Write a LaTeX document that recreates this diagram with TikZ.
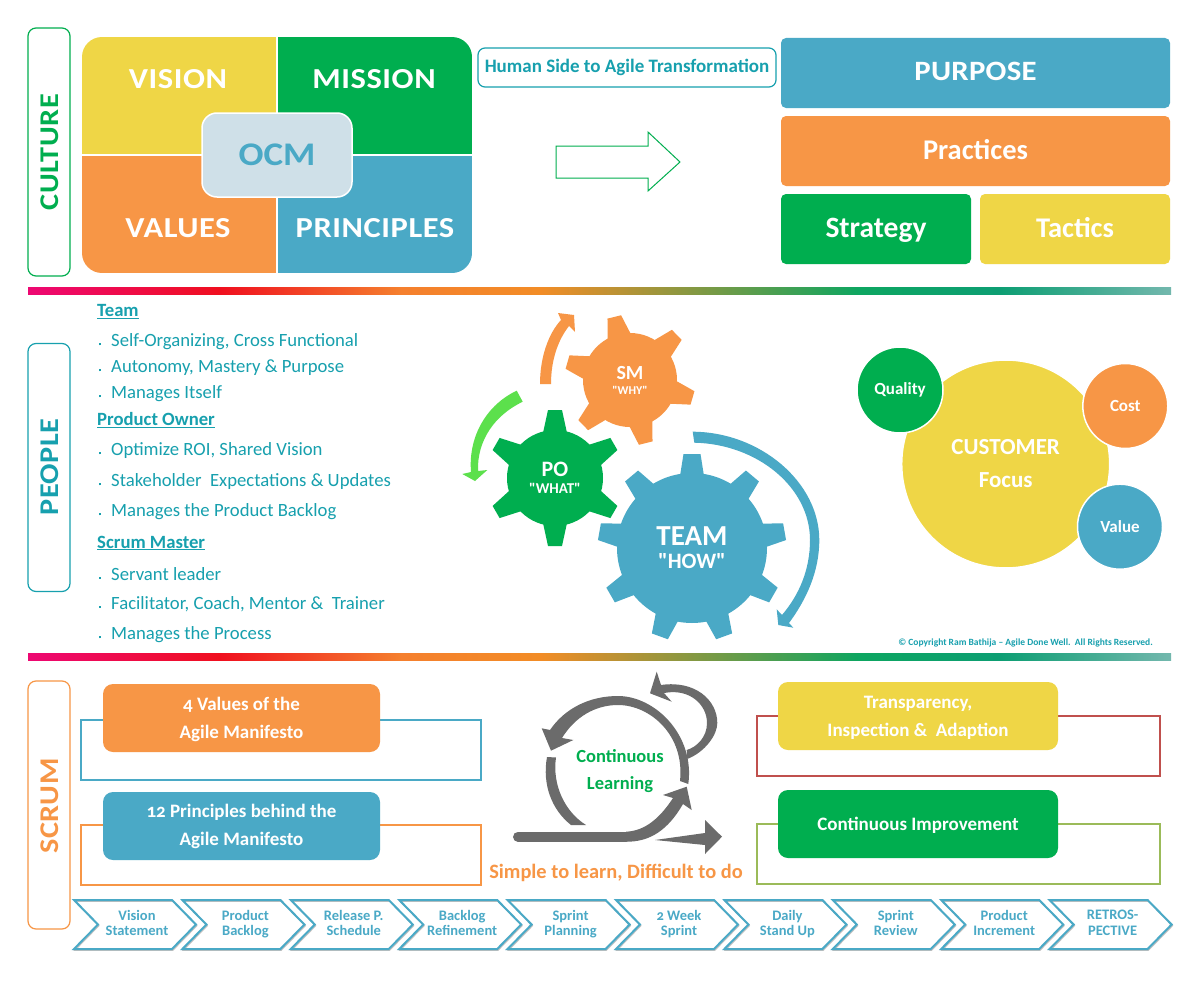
\documentclass[tikz,border=0pt]{standalone}
\usepackage{fontspec}
\setmainfont{Carlito}
\newfontfamily\quotefont{Carlito}
\usetikzlibrary{calc}
\definecolor{cgreen}{HTML}{00AE4F}
\definecolor{cyellow}{HTML}{EFD646}
\definecolor{corange}{HTML}{F79646}
\definecolor{cblue}{HTML}{4AA9C6}
\definecolor{cteal}{HTML}{17A0AE}
\definecolor{cpale}{HTML}{CFE0E8}
\definecolor{cgray}{HTML}{6B6B6B}
\definecolor{clime}{HTML}{5CE04C}
\definecolor{cred}{HTML}{C0504D}
\definecolor{colive}{HTML}{9BBB59}
\pgfdeclarehorizontalshading{barshade}{100bp}{
  rgb(0bp)=(0.93,0.03,0.45);
  rgb(25bp)=(0.93,0.03,0.45);
  rgb(33.4bp)=(0.94,0.06,0.12);
  rgb(41.3bp)=(0.96,0.50,0.18);
  rgb(47.4bp)=(0.95,0.55,0.15);
  rgb(61.4bp)=(0.05,0.65,0.38);
  rgb(67.5bp)=(0.05,0.62,0.45);
  rgb(75bp)=(0.45,0.72,0.68);
  rgb(100bp)=(0.45,0.72,0.68)}
\tikzset{
  sidebox/.style={draw=#1,line width=1.2pt,rounded corners=8pt,minimum width=42pt,minimum height=248pt,inner sep=0pt},
  sidetext/.style={text=#1,font=\fontsize{27}{27}\selectfont\bfseries\addfontfeature{FakeStretch=1.12,LetterSpace=2},rotate=90,inner sep=0pt},
  quadtext/.style={text=white,font=\fontsize{29}{29}\selectfont\bfseries\addfontfeature{FakeStretch=1.12,LetterSpace=2},inner sep=0pt},
  plank/.style={fill=#1,rounded corners=5pt,minimum height=70pt,inner sep=0pt,text=white,text height=22pt,text depth=6pt},
  button/.style={fill=#1,rounded corners=10pt,minimum height=68pt,inner sep=0pt},
  buttontext/.style={text=white,align=center,inner sep=0pt,font=\fontsize{19}{28}\selectfont\bfseries,execute at begin node=\strut,execute at end node=\strut},
  listitem/.style={anchor=west,inner sep=0pt,text=cteal,font=\fontsize{18.7}{20}\selectfont},
  listhead/.style={anchor=west,inner sep=0pt,text=cteal,font=\fontsize{18.7}{20}\selectfont\bfseries},
  ball/.style={circle,fill=#1,draw=white,line width=1.5pt,inner sep=0pt,text=white},
  gearhub/.style={circle,fill=#1,inner sep=0pt,text=white,align=center},
  chevtext/.style={text=cblue,align=center,inner sep=0pt,font=\fontsize{14.5}{15.5}\selectfont\bfseries,execute at begin node=\strut,execute at end node=\strut},
  bar/.style={shading=barshade}
}
\newcommand{\teeth}[8]{
  \foreach \n in {1,...,#6}
    \fill[#8,shift={(#1)},rotate=#7+360/#6*\n] (#2-3,-#4)--(#3,-#5)--(#3,#5)--(#2-3,#4)--cycle;
}
\newcommand{\bul}{\makebox[14pt][l]{\hspace*{2pt}\raisebox{1.5pt}{\rule{2.2pt}{2.2pt}}}}
\begin{document}
\begin{tikzpicture}[x=1pt,y=-1pt]
\useasboundingbox (0,0) rectangle (1200,982);
\fill[white] (0,0) rectangle (1200,982);
\node[sidebox=cgreen,minimum height=248pt] (culturebox) at (49,152) {};
\node[sidetext=cgreen] (culture) at (50,152) {CULTURE};
\begin{scope}
  \clip[rounded corners=20pt] (82,37) rectangle (472,273);
  \fill[cyellow] (82,37) rectangle (277,155);
  \fill[cgreen] (277,37) rectangle (472,155);
  \fill[corange] (82,155) rectangle (277,273);
  \fill[cblue] (277,155) rectangle (472,273);
  \draw[white,line width=1.5pt] (277,37)--(277,273) (82,155)--(472,155);
\end{scope}
\node[quadtext] (vision) at (178,79) {VISION};
\node[quadtext] (mission) at (374,79) {MISSION};
\node[quadtext] (values) at (178,228) {VALUES};
\node[quadtext] (principles) at (375,228) {PRINCIPLES};
\node[fill=cpale,draw=white,line width=1.5pt,rounded corners=15pt,minimum width=150pt,minimum height=84pt,text=cblue,font=\fontsize{33}{33}\selectfont\bfseries\addfontfeature{FakeStretch=1.12}] (ocm) at (277,155) {OCM};
\node[draw=cteal,line width=1.2pt,rounded corners=7pt,minimum width=298pt,minimum height=39pt,inner sep=0pt,text=cteal,font=\fontsize{19}{20}\selectfont\bfseries] (human) at (627,67.5) {\raisebox{3pt}{Human Side to Agile Transformation}};
\draw[cgreen,line width=1pt] (556,146)--(648,146)--(648,132)--(680,162)--(648,191)--(648,178)--(556,178)--cycle;
\node[plank=cblue,minimum width=389pt,font=\fontsize{28}{28}\selectfont\bfseries\addfontfeature{FakeStretch=1.1,LetterSpace=1}] (purpose) at (975.5,73) {PURPOSE};
\node[plank=corange,minimum width=389pt,font=\fontsize{28.5}{28}\selectfont\bfseries] (practices) at (975.5,151) {Practices};
\node[plank=cgreen,minimum width=190pt,font=\fontsize{29.5}{28}\selectfont\bfseries] (strategy) at (876,229) {Strategy};
\node[plank=cyellow,minimum width=190pt,font=\fontsize{28.5}{28}\selectfont\bfseries] (tactics) at (1075,229) {Tactics};
\path[bar] (28,287) rectangle (1171,294);
\node[sidebox=cteal] (peoplebox) at (49,467.5) {};
\node[sidetext=cteal] (people) at (50,467) {PEOPLE};
\node[listhead] (teamhead) at (97,312) {\underline{Team}};
\node[listitem] (teama) at (97,342) {\bul Self-Organizing, Cross Functional};
\node[listitem] (teamb) at (97,368) {\bul Autonomy, Mastery \& Purpose};
\node[listitem] (teamc) at (97,394) {\bul Manages Itself};
\node[listhead] (pohead) at (97,420) {\underline{Product Owner}};
\node[listitem] (poa) at (97,451) {\bul Optimize ROI, Shared Vision};
\node[listitem] (pob) at (97,482) {\bul Stakeholder\ \ Expectations \& Updates};
\node[listitem] (poc) at (97,512) {\bul Manages the Product Backlog};
\node[listhead] (smhead) at (97,543) {\underline{Scrum Master}};
\node[listitem] (sma) at (97,574) {\bul Servant leader};
\node[listitem] (smb) at (97,604) {\bul Facilitator, Coach, Mentor \&\ \ Trainer};
\node[listitem] (smc) at (97,635) {\bul Manages the Process};
\teeth{630,380}{47}{65}{12}{7}{6}{44}{corange}
\teeth{555,478}{48}{68}{12}{7}{6}{30}{cgreen}
\teeth{692,548}{75}{94}{12}{8.5}{9}{10}{cblue}
\node[gearhub=corange,minimum size=94pt] (sm) at (630,380) {\fontsize{20}{20}\selectfont\bfseries SM\\[3pt]\fontsize{12}{12}\selectfont\quotefont\bfseries "WHY"};
\node[gearhub=cgreen,minimum size=96pt] (po) at (555,478) {\fontsize{22}{22}\selectfont\bfseries PO\\[5pt]\fontsize{15}{15}\selectfont\quotefont\bfseries "WHAT"};
\node[gearhub=cblue,minimum size=150pt] (team) at (692,548) {\fontsize{29}{29}\selectfont\bfseries TEAM\\[7pt]\fontsize{22}{22}\selectfont\quotefont\bfseries "HOW"};
\fill[corange] (540,384) .. controls (540,358) and (548,334) .. (561,320) -- (558,313) -- (574,315) -- (575,332) -- (569,326) .. controls (558,340) and (551,360) .. (551,384) -- cycle;
\fill[clime] (516.7,390.7) .. controls (488,404) and (468,435) .. (471,472) -- (462.3,474) -- (475,481) -- (487.3,470) -- (478,471) .. controls (477,440) and (495,415) .. (522.7,401.7) -- cycle;
\fill[cblue] (692.7,431.7) .. controls (760,432) and (819.3,482) .. (819.3,540) .. controls (819.3,572) and (806,600) .. (789,623) -- (793.3,627.7) -- (778.3,625) -- (776.7,609.3) -- (782,615) .. controls (799,595) and (810,570) .. (810,540) .. controls (810,487) and (757,444) .. (694.3,442.7) -- cycle;
\node[ball=cyellow,minimum size=208pt,align=center,font=\fontsize{23}{33}\selectfont\bfseries] (customer) at (1005.7,464) {CUSTOMER\\Focus};
\node[ball=cgreen,minimum size=86pt,font=\fontsize{17}{17}\selectfont\bfseries] (quality) at (900,390) {Quality};
\node[ball=corange,minimum size=85pt,font=\fontsize{17}{17}\selectfont\bfseries] (cost) at (1125.3,406) {Cost};
\node[ball=cblue,minimum size=85pt,font=\fontsize{17}{17}\selectfont\bfseries] (value) at (1120,526.7) {Value};
\node[anchor=east,inner sep=0pt,text=cteal,font=\fontsize{9.5}{10}\selectfont\bfseries] (copy) at (1153,643) {© Copyright Ram Bathija – Agile Done Well.\ \ All Rights Reserved.};
\path[bar] (28,653) rectangle (1171,660);
\node[sidebox=corange] (scrumbox) at (49,805) {};
\node[sidetext=corange] (scrum) at (50,806) {SCRUM};
\draw[cblue,line width=1.3pt] (81,720) rectangle (481,780);
\draw[corange,line width=1.3pt] (81,825) rectangle (481,885);
\draw[cred,line width=1.3pt] (757,716) rectangle (1160,776);
\draw[colive,line width=1.3pt] (757,824) rectangle (1160,884);
\node[button=corange,minimum width=277pt] (manifesto) at (241.5,718) {};
\node[buttontext] (manifestotext) at (241.5,722) {{\addfontfeature{Numbers=OldStyle}4} Values of the\\Agile Manifesto};
\node[button=cblue,minimum width=277pt] (twelve) at (241.5,826) {};
\node[buttontext] (twelvetext) at (241.5,829) {{\addfontfeature{Numbers=OldStyle}12} Principles behind the\\Agile Manifesto};
\node[button=cyellow,minimum width=280pt] (transparency) at (918,716) {};
\node[buttontext] (transparencytext) at (918,721) {Transparency,\\Inspection \&\ \ Adaption};
\node[button=cgreen,minimum width=280pt] (improvement) at (918,824) {};
\node[buttontext] (improvementtext) at (918,825) {Continuous Improvement};
\draw[cgray,line width=10pt,line cap=round] (518,836.7)--(626,836.7);
\fill[cgray] (626,831.7) .. controls (645,831) and (660,818) .. (673,798) -- (663,795) -- (686.7,786.7) -- (691.7,810) -- (683,804) .. controls (668,830) and (650,842) .. (626,841.7) -- cycle;
\fill[cgray] (655,840) -- (705,833) -- (705,820) -- (722,836.7) -- (705,854) -- (705,845) -- cycle;
\fill[cgray] (547,757) .. controls (542,785) and (552,810) .. (571,825) -- (586,825) .. controls (565,812) and (552,785) .. (556,757.5) -- cycle;
\fill[cgray] (688.3,784) .. controls (695,735) and (655,696) .. (618,696) .. controls (590,696) and (565,708) .. (550,730) -- (541.7,728.3) -- (551,750.7) -- (573.3,740) -- (562,738) .. controls (575,717) and (595,705) .. (618,705) .. controls (650,705) and (685,735) .. (680,781) -- cycle;
\fill[cgray] (687.3,759) .. controls (705,752) and (717.3,735) .. (717.3,723) .. controls (717.3,700) and (695,680) .. (661,685) -- (656.7,671.7) -- (650,693.3) -- (671.7,701.7) -- (664,693) .. controls (690,688) and (707,705) .. (707,723) .. controls (707,737) and (697,747) .. (686.7,750) -- cycle;
\node[align=center,inner sep=0pt,text=cgreen,font=\fontsize{18.5}{27}\selectfont\bfseries] (learning) at (620,771.5) {Continuous\\Learning};
\node[inner sep=0pt,text=corange,font=\fontsize{20.4}{21}\selectfont\bfseries] (simple) at (616,873) {Simple to learn, Difficult to do};
\foreach \i/\txt in {0/{Vision\\Statement},1/{Product\\Backlog},2/{Release P.\\Schedule},3/{Backlog\\Refinement},4/{Sprint\\Planning},5/{{\addfontfeature{Numbers=OldStyle}2} Week\\Sprint},6/{Daily\\Stand Up},7/{Sprint\\Review},8/{Product\\Increment},9/{RETROS-\\PECTIVE}}{
  \draw[black!25,line width=1.2pt,shift={(0.8,1.2)},xshift=\i*108.4] (74,900)--(172,900)--(196,924.5)--(172,949)--(74,949)--(98,924.5)--cycle;
  \draw[cblue,line width=2pt,xshift=\i*108.4] (74,900)--(172,900)--(196,924.5)--(172,949)--(74,949)--(98,924.5)--cycle;
  \node[chevtext] (chev\i) at (137+\i*108.4,925) {\txt};
}
\end{tikzpicture}
\end{document}
